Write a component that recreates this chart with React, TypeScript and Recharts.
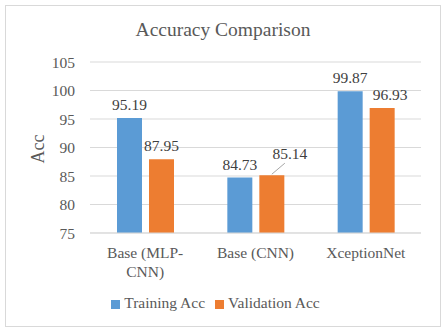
import { BarChart, Bar, XAxis, YAxis, CartesianGrid, Legend, LabelList } from "recharts";

const categories = ["Base (MLP-CNN)", "Base (CNN)", "XceptionNet"];
const trainingAcc = [95.19, 84.73, 99.87];
const validationAcc = [87.95, 85.14, 96.93];
const yTicks = [75, 80, 85, 90, 95, 100, 105];

const FONT = "'Liberation Serif', 'Times New Roman', serif";
const TEXT = "#595959";
const COLORS = { train: "#5B9BD5", val: "#ED7D31" };

const data = categories.map((c, i) => ({ name: c, train: trainingAcc[i], val: validationAcc[i] }));

function CatTick({ x, y, payload }: any) {
  const s: string = payload.value;
  // split long hyphenated names like Excel does
  const lines = s.length > 12 && s.includes("-") ? [s.slice(0, s.indexOf("-") + 1), s.slice(s.indexOf("-") + 1)] : [s];
  return (
    <text x={x} y={y} textAnchor="middle" fill={TEXT} fontSize={15.5} fontFamily={FONT}>
      {lines.map((l, i) => (
        <tspan key={i} x={x} dy={i === 0 ? 17 : 19}>{l}</tspan>
      ))}
    </text>
  );
}

function ValLabel(props: any) {
  const { x, y, width, value, index } = props;
  const cx = x + width / 2;
  const diff = trainingAcc[index] - validationAcc[index];
  // nearly equal bars: lift label off to the right with a leader line
  if (Math.abs(diff) < 2) {
    return (
      <g>
        <line x1={cx} y1={y - 1} x2={cx + 13} y2={y - 12} stroke="#A6A6A6" strokeWidth={1} />
        <text x={cx + 18} y={y - 16} textAnchor="middle" fill="#404040" fontSize={15.5} fontFamily={FONT}>{value}</text>
      </g>
    );
  }
  // neighbour label sits close above: nudge right
  const dx = diff > 2 && diff < 5 ? 8 : 0;
  return <text x={cx + dx} y={y - 8} textAnchor="middle" fill="#404040" fontSize={15.5} fontFamily={FONT}>{value}</text>;
}

export default function App() {
  return (
    <div style={{ position: "absolute", left: 0, top: 0, width: 446, height: 331, background: "#fff" }}>
      <div style={{ position: "absolute", left: 5, top: 5, width: 434, height: 320, border: "1px solid #D9D9D9" }} />
      <div style={{ position: "absolute", left: 0, top: 19, width: 446, textAlign: "center", fontFamily: FONT, fontSize: 19.5, color: TEXT }}>
        Accuracy Comparison
      </div>
      <div style={{ position: "absolute", left: 0, top: 0 }}>
        <BarChart width={446} height={331} data={data} margin={{ top: 62, right: 25, left: 20, bottom: 22 }} barSize={25} barGap={7}>
          <CartesianGrid vertical={false} stroke="#D9D9D9" />
          <XAxis dataKey="name" tick={<CatTick />} tickLine={false} axisLine={{ stroke: "#D9D9D9" }} height={58} interval={0} />
          <YAxis
            domain={[75, 105]}
            ticks={yTicks}
            tickLine={false}
            axisLine={false}
            width={70}
            tickSize={0}
            tickMargin={15}
            tick={{ fill: TEXT, fontSize: 15.5, fontFamily: FONT }}
            label={{ value: "Acc", angle: -90, position: "insideLeft", offset: 18, fill: TEXT, fontSize: 18, fontFamily: FONT, dy: 16 }}
          />
          <Legend
            verticalAlign="bottom"
            iconType="square"
            iconSize={9}
            wrapperStyle={{ fontFamily: FONT, fontSize: 15.5, bottom: 19 }}
            formatter={(v) => <span style={{ color: TEXT }}>{v}</span>}
          />
          <Bar dataKey="train" name="Training Acc" fill={COLORS.train} isAnimationActive={false}>
            <LabelList dataKey="train" position="top" offset={8} fill="#404040" fontSize={15.5} fontFamily={FONT} />
          </Bar>
          <Bar dataKey="val" name="Validation Acc" fill={COLORS.val} isAnimationActive={false}>
            <LabelList dataKey="val" content={<ValLabel />} />
          </Bar>
        </BarChart>
      </div>
    </div>
  );
}
